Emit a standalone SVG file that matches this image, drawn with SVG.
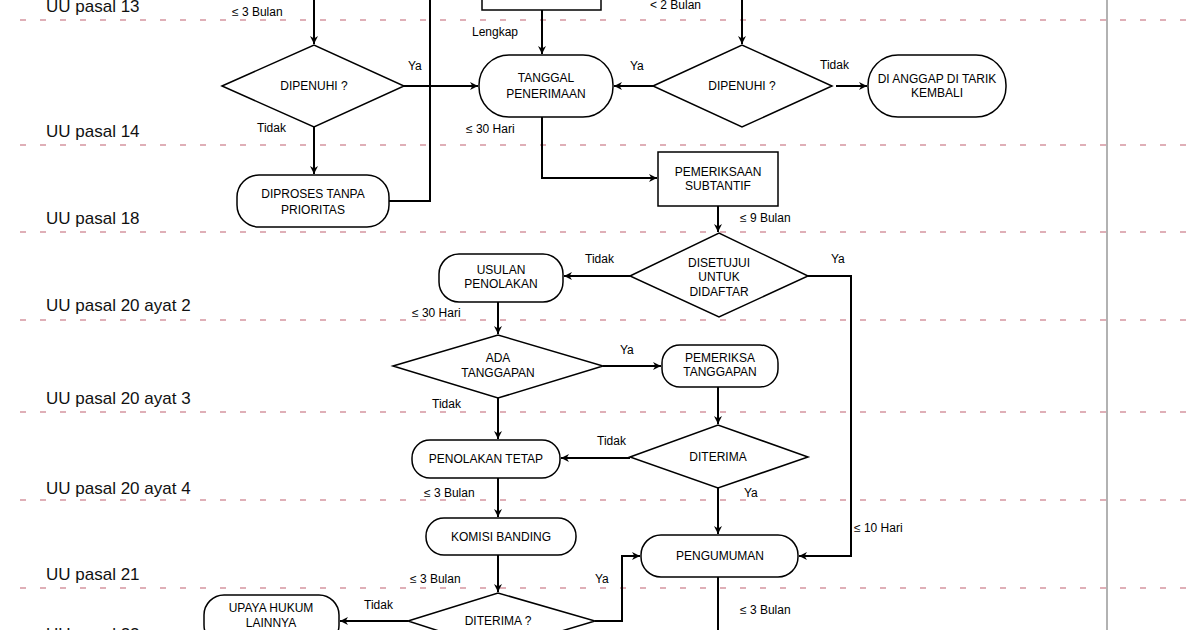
<svg xmlns="http://www.w3.org/2000/svg" width="1200" height="630" viewBox="0 0 1200 630">
<defs>
<marker id="ah" viewBox="0 0 10 10" refX="10" refY="5" markerWidth="8" markerHeight="8" orient="auto" markerUnits="userSpaceOnUse"><path d="M0,0 L10,5 L0,10 L3,5 Z" fill="#000"/></marker>
<style>
.n{fill:#fff;stroke:#000;stroke-width:1.5}
.t{font-family:"Liberation Sans",Arial,sans-serif;font-size:12px;text-anchor:middle;fill:#000}
.l{font-family:"Liberation Sans",Arial,sans-serif;font-size:12px;fill:#000}
.s{font-family:"Liberation Sans",Arial,sans-serif;font-size:17px;fill:#111}
.d{stroke:#c06070;stroke-width:1.2;stroke-dasharray:6,14}
.c{fill:none;stroke:#000;stroke-width:2}
</style>
</defs>
<rect width="1200" height="630" fill="#fff"/>
<g id="grid">
<line class="d" x1="20" y1="20" x2="1200" y2="20"/>
<line class="d" x1="20" y1="145" x2="1200" y2="145"/>
<line class="d" x1="20" y1="232" x2="1200" y2="232"/>
<line class="d" x1="20" y1="320" x2="1200" y2="320"/>
<line class="d" x1="20" y1="412" x2="1200" y2="412"/>
<line class="d" x1="20" y1="500" x2="1200" y2="500"/>
<line class="d" x1="20" y1="588" x2="1200" y2="588"/>
<line x1="1107" y1="0" x2="1107" y2="630" stroke="#999" stroke-width="1.5"/>
<text class="s" x="46" y="12">UU pasal 13</text>
<text class="s" x="46" y="137">UU pasal 14</text>
<text class="s" x="46" y="224">UU pasal 18</text>
<text class="s" x="46" y="311">UU pasal 20 ayat 2</text>
<text class="s" x="46" y="404">UU pasal 20 ayat 3</text>
<text class="s" x="46" y="494">UU pasal 20 ayat 4</text>
<text class="s" x="46" y="580">UU pasal 21</text>
<text class="s" x="46" y="640">UU pasal 22</text>
</g>
<g id="connectors">
<line class="c" x1="314" y1="0" x2="314" y2="44" marker-end="url(#ah)"/>
<polyline class="c" points="430,0 430,201 389,201"/>
<line class="c" x1="404" y1="86" x2="478" y2="86" marker-end="url(#ah)"/>
<line class="c" x1="314" y1="127" x2="314" y2="174" marker-end="url(#ah)"/>
<line class="c" x1="542" y1="10" x2="542" y2="54" marker-end="url(#ah)"/>
<line class="c" x1="742" y1="0" x2="742" y2="44" marker-end="url(#ah)"/>
<line class="c" x1="653" y1="86" x2="614" y2="86" marker-end="url(#ah)"/>
<line class="c" x1="836" y1="86" x2="867" y2="86" marker-end="url(#ah)"/>
<polyline class="c" points="542,117 542,178 657,178" marker-end="url(#ah)"/>
<line class="c" x1="718" y1="206" x2="718" y2="232" marker-end="url(#ah)"/>
<line class="c" x1="630" y1="276" x2="564" y2="276" marker-end="url(#ah)"/>
<polyline class="c" points="808,276 851,276 851,556 799,556" marker-end="url(#ah)"/>
<line class="c" x1="498" y1="302" x2="498" y2="334" marker-end="url(#ah)"/>
<line class="c" x1="603" y1="366" x2="661" y2="366" marker-end="url(#ah)"/>
<line class="c" x1="498" y1="398" x2="498" y2="439" marker-end="url(#ah)"/>
<line class="c" x1="718" y1="387" x2="718" y2="424" marker-end="url(#ah)"/>
<line class="c" x1="630" y1="458" x2="561" y2="458" marker-end="url(#ah)"/>
<line class="c" x1="718" y1="488" x2="718" y2="534" marker-end="url(#ah)"/>
<line class="c" x1="498" y1="478" x2="498" y2="517" marker-end="url(#ah)"/>
<line class="c" x1="498" y1="555" x2="498" y2="592" marker-end="url(#ah)"/>
<polyline class="c" points="595,621 622,621 622,556 640,556" marker-end="url(#ah)"/>
<line class="c" x1="408" y1="621" x2="340" y2="621" marker-end="url(#ah)"/>
<line class="c" x1="718" y1="577" x2="718" y2="640" marker-end="url(#ah)"/>
<text class="l" x="232" y="16">≤ 3 Bulan</text>
<text class="l" x="408" y="70">Ya</text>
<text class="l" x="257" y="132">Tidak</text>
<text class="l" x="472" y="36">Lengkap</text>
<text class="l" x="650" y="9">&lt; 2 Bulan</text>
<text class="l" x="630" y="70">Ya</text>
<text class="l" x="820" y="69">Tidak</text>
<text class="l" x="466" y="133">≤ 30 Hari</text>
<text class="l" x="740" y="222">≤ 9 Bulan</text>
<text class="l" x="585" y="263">Tidak</text>
<text class="l" x="831" y="263">Ya</text>
<text class="l" x="854" y="532">≤ 10 Hari</text>
<text class="l" x="412" y="317">≤ 30 Hari</text>
<text class="l" x="620" y="354">Ya</text>
<text class="l" x="432" y="408">Tidak</text>
<text class="l" x="597" y="445">Tidak</text>
<text class="l" x="744" y="497">Ya</text>
<text class="l" x="424" y="497">≤ 3 Bulan</text>
<text class="l" x="410" y="583">≤ 3 Bulan</text>
<text class="l" x="595" y="583">Ya</text>
<text class="l" x="364" y="609">Tidak</text>
<text class="l" x="740" y="614">≤ 3 Bulan</text>
</g>
<g id="n-top"><rect class="n" x="482" y="-30" width="119" height="40"/></g>
<g id="n-dip1"><polygon class="n" points="222,86 314,45 404,86 314,127"/><text class="t" x="314" y="90">DIPENUHI ?</text></g>
<g id="n-tgl"><rect class="n" x="479" y="55" width="134" height="62" rx="30"/><text class="t" x="546" y="82" font-size="13">TANGGAL</text><text class="t" x="546" y="98" font-size="13">PENERIMAAN</text></g>
<g id="n-dip2"><polygon class="n" points="653,86 742,45 832,86 742,127"/><text class="t" x="742" y="90">DIPENUHI ?</text></g>
<g id="n-anggap"><rect class="n" x="868" y="55" width="138" height="62" rx="30"/><text class="t" x="937" y="83" font-size="11">DI ANGGAP DI TARIK</text><text class="t" x="937" y="97" font-size="11">KEMBALI</text></g>
<g id="n-diproses"><rect class="n" x="237" y="175" width="152" height="52" rx="22"/><text class="t" x="313" y="198" font-size="13">DIPROSES TANPA</text><text class="t" x="313" y="214" font-size="13">PRIORITAS</text></g>
<g id="n-subst"><rect class="n" x="658" y="152" width="120" height="54"/><text class="t" x="718" y="176" font-size="11">PEMERIKSAAN</text><text class="t" x="718" y="190" font-size="11">SUBTANTIF</text></g>
<g id="n-setuju"><polygon class="n" points="630,276 719,233 808,276 719,317"/><text class="t" x="719" y="267" font-size="11">DISETUJUI</text><text class="t" x="719" y="281" font-size="11">UNTUK</text><text class="t" x="719" y="296" font-size="11">DIDAFTAR</text></g>
<g id="n-usulan"><rect class="n" x="439" y="254" width="124" height="48" rx="20"/><text class="t" x="501" y="274" font-size="11">USULAN</text><text class="t" x="501" y="288" font-size="11">PENOLAKAN</text></g>
<g id="n-ada"><polygon class="n" points="393,366 498,335 603,366 498,398"/><text class="t" x="498" y="362" font-size="11">ADA</text><text class="t" x="498" y="377" font-size="11">TANGGAPAN</text></g>
<g id="n-periksa"><rect class="n" x="662" y="345" width="116" height="42" rx="18"/><text class="t" x="720" y="362" font-size="11">PEMERIKSA</text><text class="t" x="720" y="376" font-size="11">TANGGAPAN</text></g>
<g id="n-diterima"><polygon class="n" points="630,457 718,425 808,457 718,488"/><text class="t" x="718" y="461" font-size="11">DITERIMA</text></g>
<g id="n-tetap"><rect class="n" x="412" y="440" width="148" height="38" rx="18"/><text class="t" x="486" y="463" font-size="11">PENOLAKAN TETAP</text></g>
<g id="n-komisi"><rect class="n" x="426" y="518" width="150" height="37" rx="18"/><text class="t" x="501" y="541" font-size="11">KOMISI BANDING</text></g>
<g id="n-umum"><rect class="n" x="641" y="535" width="157" height="42" rx="20"/><text class="t" x="720" y="560" font-size="11">PENGUMUMAN</text></g>
<g id="n-diterima2"><polygon class="n" points="408,621 498,593 595,621 498,650"/><text class="t" x="498" y="625" font-size="11">DITERIMA ?</text></g>
<g id="n-upaya"><rect class="n" x="204" y="595" width="135" height="50" rx="20"/><text class="t" x="271" y="612" font-size="11">UPAYA HUKUM</text><text class="t" x="271" y="627" font-size="11">LAINNYA</text></g>
</svg>
